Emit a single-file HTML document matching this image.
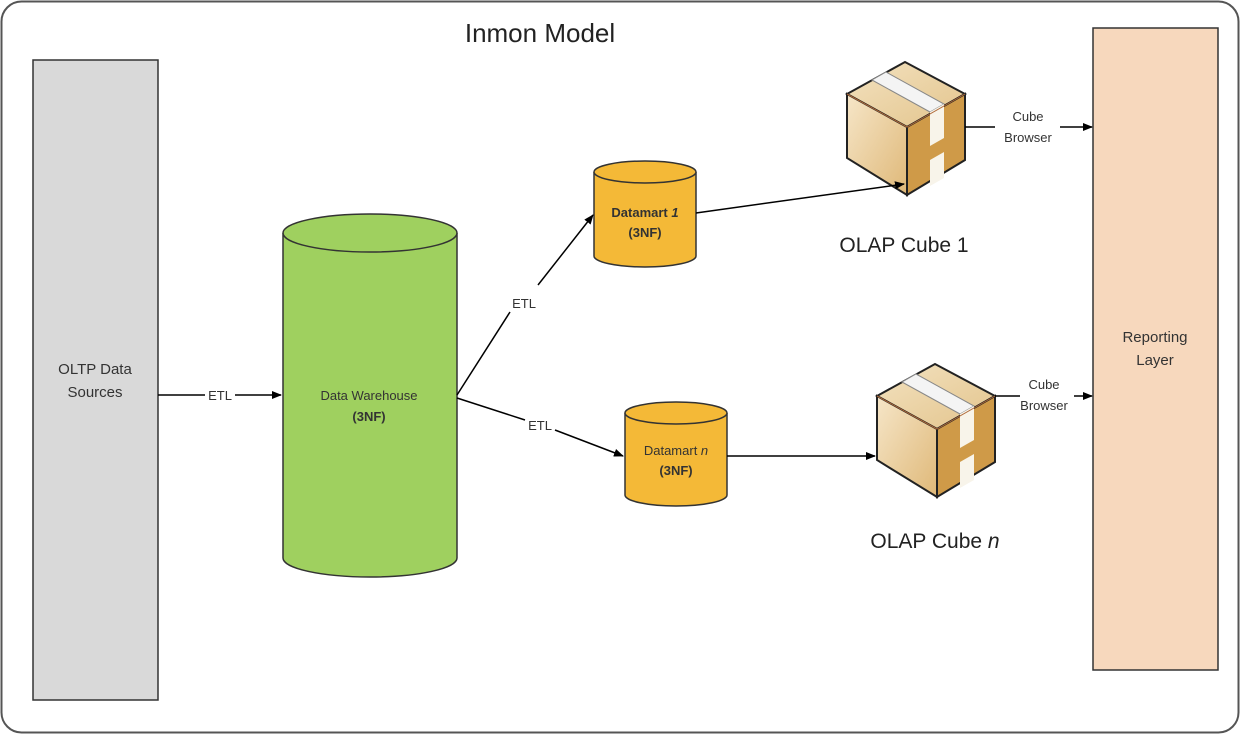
<!DOCTYPE html>
<html><head><style>
body{margin:0;background:#fff;}
svg{display:block;font-family:"Liberation Sans",sans-serif;}
</style></head><body>
<svg width="1240" height="734" viewBox="0 0 1240 734">
<defs>
<marker id="a" markerWidth="10" markerHeight="8" refX="9" refY="4" orient="auto" markerUnits="userSpaceOnUse"><path d="M0,0 L10,4 L0,8 z" fill="#000"/></marker>
<linearGradient id="gl" x1="0" y1="0" x2="1" y2="1"><stop offset="0" stop-color="#f6e6c8"/><stop offset="1" stop-color="#dfb878"/></linearGradient>
<linearGradient id="gt" x1="0" y1="0" x2="1" y2="1"><stop offset="0" stop-color="#f3e2c0"/><stop offset="1" stop-color="#e3c48c"/></linearGradient>
<g id="cube">
<path d="M847,94 L905,62 L965,94 L907,127 Z" fill="url(#gt)" stroke="#222" stroke-width="2"/>
<path d="M847,94 L907,127 L907,195 L847,158 Z" fill="url(#gl)" stroke="#222" stroke-width="2"/>
<path d="M907,127 L965,94 L965,160 L907,195 Z" fill="#cf9a48" stroke="#222" stroke-width="2"/>
<path d="M872,80 L930,112 L944,104 L886,72 Z" fill="#f4f4f4" stroke="#888" stroke-width="1"/>
<path d="M930,112 L944,104 L944,138 L930,146 Z" fill="#f8f4ea"/>
<path d="M930,160 L944,152 L944,178 L930,186 Z" fill="#f8f4ea"/>
<path d="M847,94 L907,127 L965,94" fill="none" stroke="#b06a3a" stroke-width="1"/>
</g>
</defs>
<rect x="1.5" y="1.5" width="1237" height="731" rx="20" fill="#fff" stroke="#555" stroke-width="2"/>
<text x="540" y="42" font-size="26" text-anchor="middle" fill="#222">Inmon Model</text>
<rect x="33" y="60" width="125" height="640" fill="#d9d9d9" stroke="#333" stroke-width="1.5"/>
<text x="95" y="374" font-size="15" text-anchor="middle" fill="#333">OLTP Data</text>
<text x="95" y="397" font-size="15" text-anchor="middle" fill="#333">Sources</text>
<rect x="1093" y="28" width="125" height="642" fill="#f7d8bd" stroke="#333" stroke-width="1.5"/>
<text x="1155" y="342" font-size="15" text-anchor="middle" fill="#333">Reporting</text>
<text x="1155" y="365" font-size="15" text-anchor="middle" fill="#333">Layer</text>
<!-- DW -->
<path d="M283,233 L283,558 A87,19 0 0 0 457,558 L457,233" fill="#9fd05f" stroke="#333" stroke-width="1.5"/>
<ellipse cx="370" cy="233" rx="87" ry="19" fill="#9fd05f" stroke="#333" stroke-width="1.5"/>
<text x="369" y="400" font-size="13" text-anchor="middle" fill="#333">Data Warehouse</text>
<text x="369" y="421" font-size="13" font-weight="bold" text-anchor="middle" fill="#333">(3NF)</text>
<!-- DM1 -->
<path d="M594,172 L594,256 A51,11 0 0 0 696,256 L696,172" fill="#f4b937" stroke="#333" stroke-width="1.5"/>
<ellipse cx="645" cy="172" rx="51" ry="11" fill="#f4b937" stroke="#333" stroke-width="1.5"/>
<text x="645" y="217" font-size="13" font-weight="bold" text-anchor="middle" fill="#333">Datamart <tspan font-style="italic">1</tspan></text>
<text x="645" y="237" font-size="13" font-weight="bold" text-anchor="middle" fill="#333">(3NF)</text>
<!-- DMn -->
<path d="M625,413 L625,495 A51,11 0 0 0 727,495 L727,413" fill="#f4b937" stroke="#333" stroke-width="1.5"/>
<ellipse cx="676" cy="413" rx="51" ry="11" fill="#f4b937" stroke="#333" stroke-width="1.5"/>
<text x="676" y="455" font-size="13" text-anchor="middle" fill="#333">Datamart <tspan font-style="italic">n</tspan></text>
<text x="676" y="475" font-size="13" font-weight="bold" text-anchor="middle" fill="#333">(3NF)</text>
<!-- cubes -->
<use href="#cube"/>
<use href="#cube" transform="translate(30,302)"/>
<text x="904" y="252" font-size="21" text-anchor="middle" fill="#222">OLAP Cube 1</text>
<text x="935" y="548" font-size="21" text-anchor="middle" fill="#222">OLAP Cube <tspan font-style="italic">n</tspan></text>
<!-- connectors -->
<g stroke="#000" stroke-width="1.5" fill="none">
<path d="M158,395 L205,395"/><path d="M235,395 L281,395" marker-end="url(#a)"/>
<path d="M457,395 L510,312"/><path d="M538,285 L593,215" marker-end="url(#a)"/>
<path d="M457,398 L525,420"/><path d="M555,430 L623,456" marker-end="url(#a)"/>
<path d="M696,213 L904,184" marker-end="url(#a)"/>
<path d="M727,456 L875,456" marker-end="url(#a)"/>
<path d="M965,127 L995,127"/><path d="M1060,127 L1092,127" marker-end="url(#a)"/>
<path d="M995,396 L1020,396"/><path d="M1074,396 L1092,396" marker-end="url(#a)"/>
</g>
<g font-size="13" fill="#333" text-anchor="middle">
<text x="220" y="400">ETL</text>
<text x="524" y="308">ETL</text>
<text x="540" y="430">ETL</text>
<text x="1028" y="121">Cube</text><text x="1028" y="142">Browser</text>
<text x="1044" y="389">Cube</text><text x="1044" y="410">Browser</text>
</g>
</svg>
</body></html>
